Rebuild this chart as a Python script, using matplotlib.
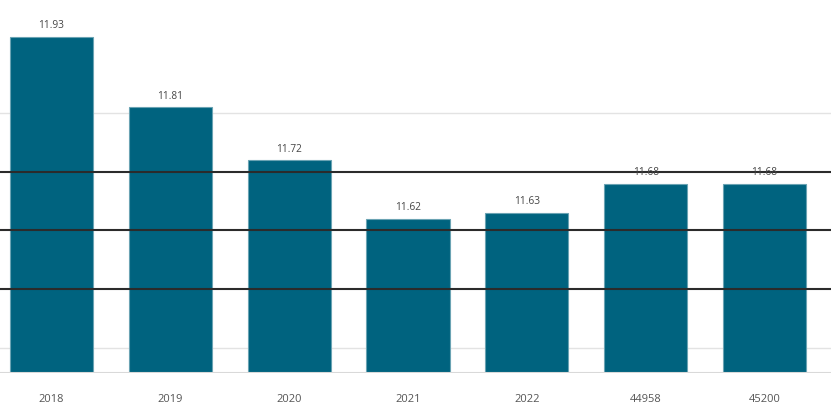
import matplotlib
matplotlib.use("Agg")
import matplotlib.pyplot as plt

categories = ["2018", "2019", "2020", "2021", "2022", "44958", "45200"]
values = [11.93, 11.81, 11.72, 11.62, 11.63, 11.68, 11.68]
light_grid = [11.4, 11.8]
ref_lines = [11.5, 11.6, 11.7]

plt.rcParams['font.family'] = ['Open Sans', 'DejaVu Sans']

fig = plt.figure(figsize=(8.31, 4.11), dpi=100)
ax = fig.add_axes([0, 38 / 411, 1, 373 / 411])

y0 = 11.357
x = list(range(len(categories)))
heights = [v - y0 for v in values]
ax.bar(x, heights, bottom=y0, width=0.70, color="#00637F",
       edgecolor="#6aa3b3", linewidth=0.8, zorder=2)

for yv in light_grid:
    ax.axhline(yv, color="#e3e3e3", linewidth=1, zorder=1)
ax.axhline(y0, color="#d9d9d9", linewidth=1.5, zorder=3)
for yv in ref_lines:
    ax.axhline(yv, color="#2b2b2b", linewidth=1.5, zorder=4)

for xi, v in zip(x, values):
    ax.annotate(f"{v:.2f}", (xi, v), xytext=(0, 4), textcoords="offset points",
                ha="center", va="bottom", fontsize=7.3, color="#444444", zorder=5)

ax.set_xlim(-0.433, 6.56)
ax.set_ylim(y0, 11.993)
ax.set_xticks(x)
ax.set_xticklabels(categories, fontsize=8, color="#555555")
ax.tick_params(axis="x", length=0, pad=15)
ax.set_yticks([])
for s in ax.spines.values():
    s.set_visible(False)

fig.savefig("out.png", dpi=100)
